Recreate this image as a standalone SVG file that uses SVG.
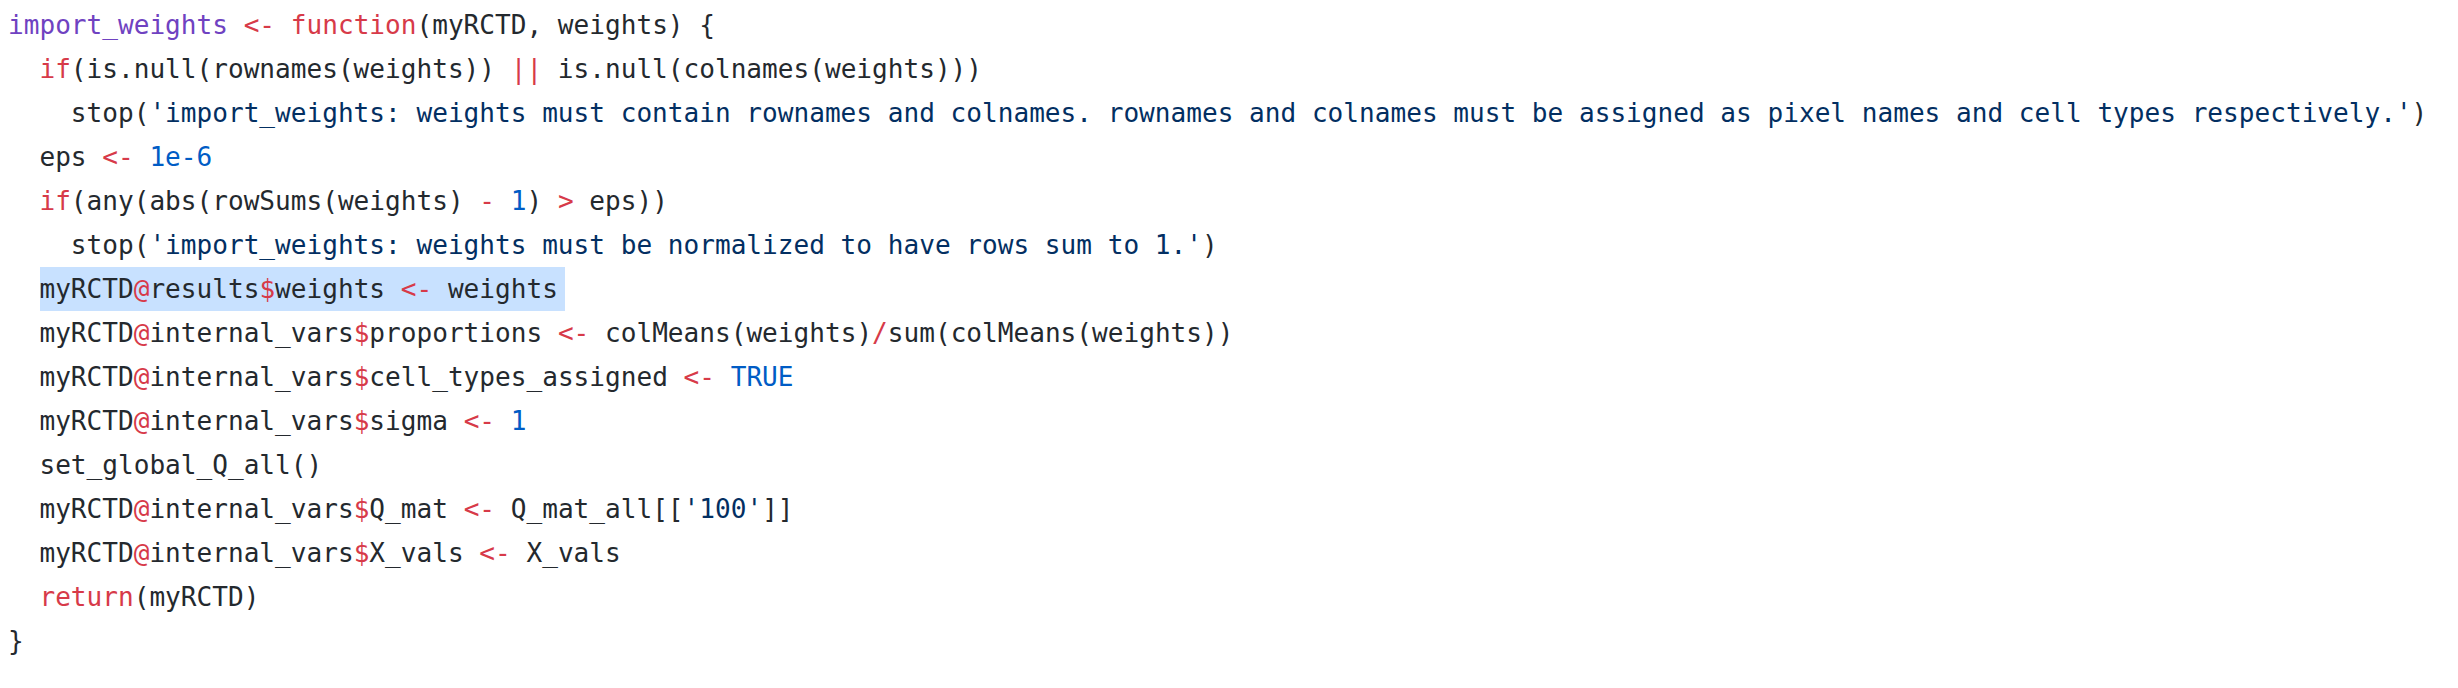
<svg xmlns="http://www.w3.org/2000/svg" width="2458" height="688" viewBox="0 0 2458 688">
<style>
text{font-family:"DejaVu Sans Mono","Liberation Mono",monospace;font-size:26.1px;fill:#24292e;white-space:pre}
.k{fill:#d73a49}.f{fill:#6f42c1}.s{fill:#032f62}.n{fill:#005cc5}
</style>
<rect width="2458" height="688" fill="#fff"/>
<rect x="40" y="267" width="525" height="44" fill="#c8e1ff"/>
<g id="code" xml:space="preserve">
<text x="8" y="34"><tspan class="f">import_weights</tspan> <tspan class="k">&lt;-</tspan> <tspan class="k">function</tspan>(myRCTD, weights) {</text>
<text x="8" y="78">  <tspan class="k">if</tspan>(is.null(rownames(weights)) <tspan class="k">||</tspan> is.null(colnames(weights)))</text>
<text x="8" y="122">    stop(<tspan class="s">'import_weights: weights must contain rownames and colnames. rownames and colnames must be assigned as pixel names and cell types respectively.'</tspan>)</text>
<text x="8" y="166">  eps <tspan class="k">&lt;-</tspan> <tspan class="n">1e-6</tspan></text>
<text x="8" y="210">  <tspan class="k">if</tspan>(any(abs(rowSums(weights) <tspan class="k">-</tspan> <tspan class="n">1</tspan>) <tspan class="k">&gt;</tspan> eps))</text>
<text x="8" y="254">    stop(<tspan class="s">'import_weights: weights must be normalized to have rows sum to 1.'</tspan>)</text>
<text x="8" y="298">  myRCTD<tspan class="k">@</tspan>results<tspan class="k">$</tspan>weights <tspan class="k">&lt;-</tspan> weights</text>
<text x="8" y="342">  myRCTD<tspan class="k">@</tspan>internal_vars<tspan class="k">$</tspan>proportions <tspan class="k">&lt;-</tspan> colMeans(weights)<tspan class="k">/</tspan>sum(colMeans(weights))</text>
<text x="8" y="386">  myRCTD<tspan class="k">@</tspan>internal_vars<tspan class="k">$</tspan>cell_types_assigned <tspan class="k">&lt;-</tspan> <tspan class="n">TRUE</tspan></text>
<text x="8" y="430">  myRCTD<tspan class="k">@</tspan>internal_vars<tspan class="k">$</tspan>sigma <tspan class="k">&lt;-</tspan> <tspan class="n">1</tspan></text>
<text x="8" y="474">  set_global_Q_all()</text>
<text x="8" y="518">  myRCTD<tspan class="k">@</tspan>internal_vars<tspan class="k">$</tspan>Q_mat <tspan class="k">&lt;-</tspan> Q_mat_all[[<tspan class="s">'100'</tspan>]]</text>
<text x="8" y="562">  myRCTD<tspan class="k">@</tspan>internal_vars<tspan class="k">$</tspan>X_vals <tspan class="k">&lt;-</tspan> X_vals</text>
<text x="8" y="606">  <tspan class="k">return</tspan>(myRCTD)</text>
<text x="8" y="650">}</text>
</g>
</svg>
